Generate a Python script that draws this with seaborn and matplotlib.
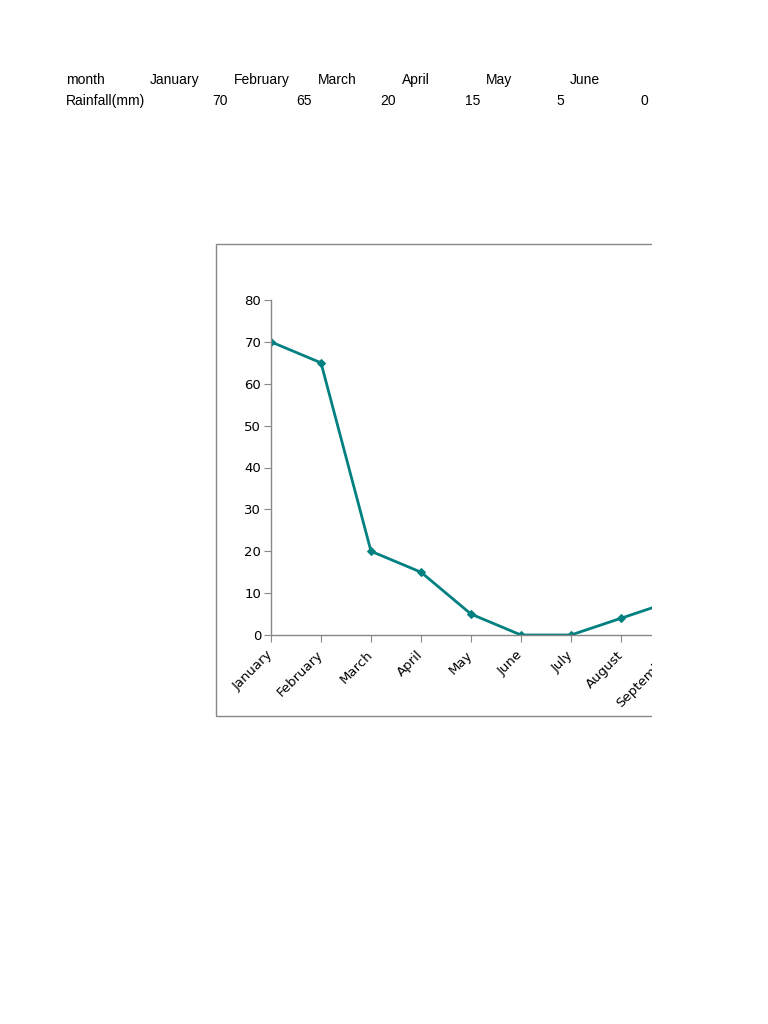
import matplotlib
matplotlib.use("Agg")
import matplotlib.pyplot as plt
import matplotlib.patches as patches
import pandas as pd
import seaborn as sns

# spreadsheet data
MONTHS = ["January", "February", "March", "April", "May", "June",
          "July", "August", "September"]
RAINFALL = [70, 65, 20, 15, 5, 0, 0, 4, 8]

TABLE_MONTHS = MONTHS[:6]
TABLE_RAIN = RAINFALL[:6]

W, H = 768, 1024


def px(x, y):
    # pixel (from top-left) -> figure fraction
    return x / W, 1 - y / H


def main():
    sns.set_style("white")
    plt.rcParams["font.family"] = ["DejaVu Sans"]

    fig = plt.figure(figsize=(7.68, 10.24), dpi=100)

    # table rows at the top of the sheet
    tf = ["Liberation Sans", "DejaVu Sans"]
    fig.text(*px(66, 80), "month", family=tf, fontsize=10, va="center",
             color="black")
    fig.text(*px(66, 101), "Rainfall(mm)", family=tf, fontsize=10,
             va="center", color="black")
    for i, (m, r) in enumerate(zip(TABLE_MONTHS, TABLE_RAIN)):
        fig.text(*px(150 + i * 84, 80), m, family=tf, fontsize=10,
                 va="center", color="black")
        fig.text(*px(228 + i * 84, 101), str(r), family=tf, fontsize=10,
                 va="center", ha="right", color="black")

    # chart frame
    x0, y0 = px(216, 716)
    frame = patches.Rectangle((x0, y0), (700 - 216) / W, (716 - 244) / H,
                              transform=fig.transFigure, fill=False,
                              edgecolor="#888888", linewidth=1.0, zorder=-1)
    fig.patches.append(frame)

    left, bottom = px(271, 635)
    ax = fig.add_axes([left, bottom, 425 / W, 335 / H])
    df = pd.DataFrame({"month": MONTHS, "rain": RAINFALL})
    sns.lineplot(data=df, x="month", y="rain", sort=False, ax=ax,
                 color="#008080", linewidth=2, marker="D", markersize=4,
                 markeredgecolor="#008080")

    ax.set_xlim(0, 8.5)
    ax.set_ylim(0, 80)
    ax.set_yticks(range(0, 81, 10))
    ax.set_xlabel("")
    ax.set_ylabel("")
    for s in ["top", "right"]:
        ax.spines[s].set_visible(False)
    for s in ["left", "bottom"]:
        ax.spines[s].set_color("#888888")
        ax.spines[s].set_linewidth(1)
    ax.tick_params(axis="both", which="major", length=5, width=0.8,
                   color="#888888", labelsize=9.5, labelcolor="black",
                   direction="out", left=True, bottom=True, pad=2)
    ax.tick_params(axis="x", pad=8)
    plt.setp(ax.get_xticklabels(), rotation=45, ha="right", va="center",
             rotation_mode="anchor")

    # page edge clips everything to the right
    cut = patches.Rectangle((651.5 / W, 0), 1, 1, transform=fig.transFigure,
                            facecolor="white", edgecolor="none", zorder=10)
    fig.patches.append(cut)

    fig.savefig("out.png", dpi=100)


if __name__ == "__main__":
    main()
